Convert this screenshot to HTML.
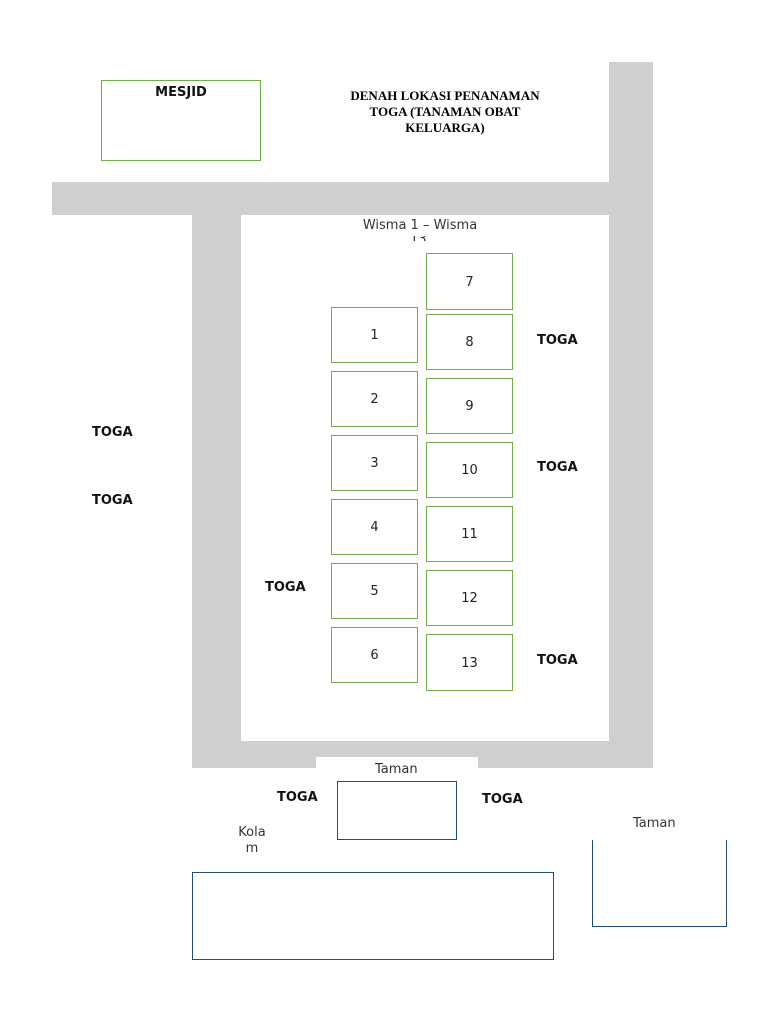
<!DOCTYPE html>
<html><head><meta charset="utf-8"><style>
body{margin:0;width:768px;height:1024px;background:#fff;position:relative;overflow:hidden;font-family:"DejaVu Sans","Liberation Sans",sans-serif;}
div{position:absolute;box-sizing:border-box;}
.g{background:#d0cfd0;}
.b{border:1px solid #70ad47;text-align:center;font-size:13px;color:#222;}
.t{font-weight:bold;font-size:13px;color:#111;}
.n{font-size:13px;color:#333;}
.bl{border:1.5px solid #1f4e79;}
</style></head><body>
<div class="g" style="left:52px;top:182px;width:558px;height:33px"></div>
<div class="g" style="left:609px;top:62px;width:44px;height:706px"></div>
<div class="g" style="left:192px;top:215px;width:49px;height:553px"></div>
<div class="g" style="left:192px;top:741px;width:418px;height:27px"></div>
<div style="left:316px;top:757px;width:162px;height:12px;background:#fff"></div>

<div style="left:101px;top:80px;width:160px;height:81px;border:1px solid #70ad47"></div>
<div class="t" style="left:101px;top:85px;width:160px;text-align:center">MESJID</div>
<div style="left:320px;top:88px;width:250px;text-align:center;font-family:'Liberation Serif',serif;font-weight:bold;font-size:13px;line-height:16px">DENAH LOKASI PENANAMAN<br>TOGA (TANAMAN OBAT<br>KELUARGA)</div>
<div class="n" style="left:340px;top:218px;width:160px;text-align:center;height:18px;overflow:hidden">Wisma 1 – Wisma</div>
<div class="n" style="left:410px;top:236px;width:20px;height:5px;overflow:hidden;font-size:13px;line-height:8px">13</div>

<div class="b" style="left:331px;top:307px;width:87px;height:56px;line-height:56px">1</div>
<div class="b" style="left:331px;top:371px;width:87px;height:56px;line-height:56px">2</div>
<div class="b" style="left:331px;top:435px;width:87px;height:56px;line-height:56px">3</div>
<div class="b" style="left:331px;top:499px;width:87px;height:56px;line-height:56px">4</div>
<div class="b" style="left:331px;top:563px;width:87px;height:56px;line-height:56px">5</div>
<div class="b" style="left:331px;top:627px;width:87px;height:56px;line-height:56px">6</div>
<div class="b" style="left:426px;top:253px;width:87px;height:57px;line-height:57px">7</div>
<div class="b" style="left:426px;top:314px;width:87px;height:56px;line-height:56px">8</div>
<div class="b" style="left:426px;top:378px;width:87px;height:56px;line-height:56px">9</div>
<div class="b" style="left:426px;top:442px;width:87px;height:56px;line-height:56px">10</div>
<div class="b" style="left:426px;top:506px;width:87px;height:56px;line-height:56px">11</div>
<div class="b" style="left:426px;top:570px;width:87px;height:56px;line-height:56px">12</div>
<div class="b" style="left:426px;top:634px;width:87px;height:57px;line-height:57px">13</div>

<div class="t" style="left:537px;top:333px">TOGA</div>
<div class="t" style="left:537px;top:460px">TOGA</div>
<div class="t" style="left:537px;top:653px">TOGA</div>
<div class="t" style="left:92px;top:425px">TOGA</div>
<div class="t" style="left:92px;top:493px">TOGA</div>
<div class="t" style="left:265px;top:580px">TOGA</div>
<div class="t" style="left:277px;top:790px">TOGA</div>
<div class="t" style="left:482px;top:792px">TOGA</div>

<div class="n" style="left:375px;top:762px">Taman</div>
<div class="bl" style="left:337px;top:781px;width:120px;height:59px"></div>
<div class="n" style="left:237px;top:825px;width:30px;text-align:center;line-height:16px;height:30px;overflow:hidden">Kola<br>m</div>
<div class="bl" style="left:192px;top:872px;width:362px;height:88px"></div>
<div class="n" style="left:633px;top:816px">Taman</div>
<div class="bl" style="left:592px;top:840px;width:135px;height:87px;border-top:none"></div>
</body></html>
